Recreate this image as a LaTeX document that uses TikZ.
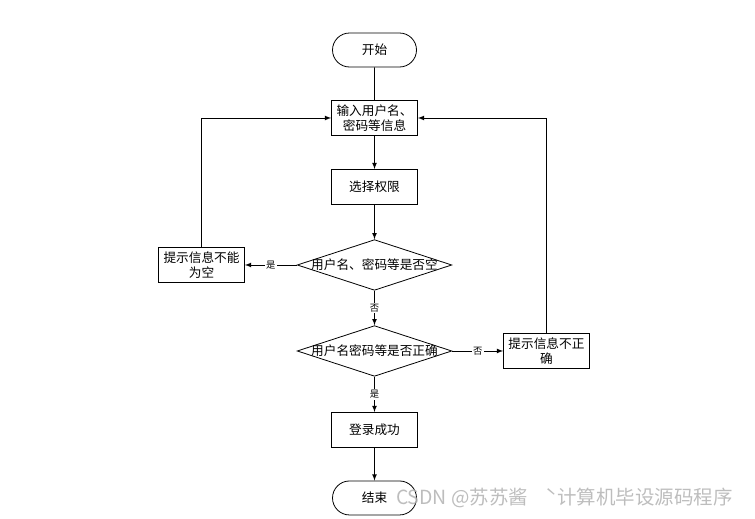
\documentclass[tikz,border=0pt]{standalone}
\usepackage{fontspec}
\usepackage{tikz}
\usetikzlibrary{
    shapes,
    shapes.geometric,
    shapes.misc,
    positioning,
    arrows,
    calc
}
\newfontfamily\cjk{Noto Sans CJK SC}
\tikzset{
  basic/.style = {
      draw,
      line width=0.6pt,
      font=\cjk\fontsize{9.5}{11.5}\selectfont,
      align=center,
      inner sep=1pt
  },
  terminal/.style = {
      basic,
      rounded rectangle,
      minimum width=65pt,
      minimum height=25.5pt
  },
  process/.style = {
      basic,
      rectangle,
      minimum width=64.5pt,
      minimum height=26.25pt
  },
  decision/.style = {
      basic,
      diamond,
      inner sep=0pt,
      minimum width=116pt,
      minimum height=38pt
  },
  flow/.style = {
      line width=0.6pt,
      -latex
  },
  answer/.style = {
      fill=white,
      font=\cjk\fontsize{7}{8}\selectfont,
      inner sep=1pt
  },
  watermark/.style = {
      font=\cjk\fontsize{14.6}{17}\selectfont,
      text=black!30,
      text opacity=0.85,
      inner sep=0pt
  }
}
\begin{document}
\begin{tikzpicture}
        \useasboundingbox (-280.9pt,37.5pt) rectangle (285.4pt,-351.75pt);
        \node[terminal] (start) {开始};
        \node[process, below of=start, node distance=51pt] (input) {输入用户名、\\密码等信息};
        \node[process, below of=input, node distance=51.75pt] (role) {选择权限};
        \node[decision, below of=role, node distance=58.5pt,
              label={[basic, draw=none]center:用户名、密码等是否空}] (empty) {};
        \node[process, left of=empty, node distance=129.75pt] (warnempty) {提示信息不能\\为空};
        \node[decision, below of=empty, node distance=64.5pt,
              label={[basic, draw=none]center:用户名密码等是否正确}] (check) {};
        \node[process, right of=check, node distance=129pt] (warnwrong) {提示信息不正\\确};
        \node[process, below of=check, node distance=59.25pt] (login) {登录成功};
        \node[terminal, below of=login, node distance=51pt] (end) {结束};
        \node[watermark, anchor=west] (mark) at (16pt,-336pt) {CSDN @苏苏酱\hspace{0.9em}ˋ计算机毕设源码程序};
        % Edges
        \draw[line width=0.6pt] (start) -- (input);
        \draw[flow] (input) -- (role);
        \draw[flow] (role) -- (empty);
        \draw[flow] (empty) -- node[answer] {是} (warnempty);
        \draw[flow] (empty) -- node[answer] {否} (check);
        \draw[flow] (check) -- node[answer] {否} (warnwrong);
        \draw[flow] (check) -- node[answer] {是} (login);
        \draw[flow] (login) -- (end);
        \draw[flow] (warnempty.north) |- (input.west);
        \draw[flow] (warnwrong.north) |- (input.east);
    \end{tikzpicture}
\end{document}
